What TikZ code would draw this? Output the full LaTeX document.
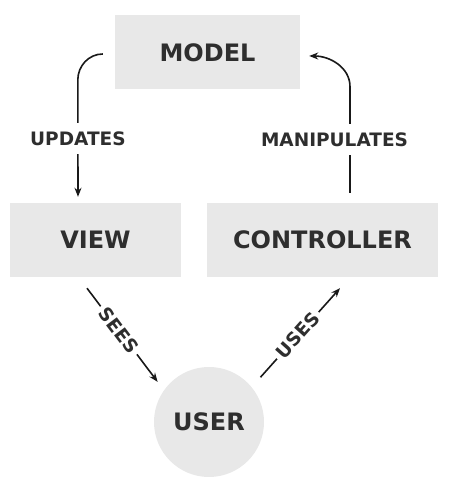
\documentclass[tikz,border=0pt]{standalone}
\usepackage{fontspec}
\setmainfont{DejaVu Sans}
\usepackage{xcolor}
\usetikzlibrary{arrows.meta,positioning,calc}

\definecolor{boxgray}{HTML}{E8E8E8}
\definecolor{textgray}{HTML}{2E2E2E}

\begin{document}
\begin{tikzpicture}[
    x=1pt, y=1pt,
    box/.style={rectangle, fill=boxgray, text=textgray, inner sep=0pt, minimum height=74pt, font=\bfseries\fontsize{24}{28}\selectfont},
    actor/.style={circle, fill=boxgray, text=textgray, inner sep=0pt, minimum size=110pt, font=\bfseries\fontsize{24}{28}\selectfont},
    lbl/.style={fill=white, text=textgray, inner xsep=4pt, inner ysep=8.5pt, font=\bfseries\fontsize{18.5}{21}\selectfont},
    arrow/.style={-{Stealth[length=9pt,width=7pt]}, line width=1.6pt, black!90}
]
    \useasboundingbox (0,0) rectangle (474,486);

    % Components
    \node[box, minimum width=185pt] (model) at (207.5,433.5) {MODEL};
    \node[box, minimum width=171pt] (view) at (95.5,246) {VIEW};
    \node[box, minimum width=231pt] (controller) at (322.5,246) {CONTROLLER};
    \node[actor] (user) at (209,64) {USER};

    % Arrows
    \draw[arrow] ([xshift=-12pt,yshift=-1.5pt]model.west) to[out=180,in=90] ++(-25,-26)
        -- node[lbl]{UPDATES} ([xshift=-17.5pt,yshift=6pt]view.north);
    \draw[arrow] ([xshift=27.5pt,yshift=10pt]controller.north)
        -- node[lbl, xshift=-15.5pt]{MANIPULATES} ++(0,106)
        to[out=90,in=0] ([xshift=9pt,yshift=-3.5pt]model.east);
    \draw[arrow] ([xshift=-8.5pt,yshift=-11pt]view.south)
        -- node[lbl, sloped, pos=0.45]{SEES} ([shift={(142:10pt)}]user.142);
    \draw[arrow] ([shift={(41:13pt)}]user.41)
        -- node[lbl, sloped, pos=0.47]{USES} ([xshift=17.5pt,yshift=-11pt]controller.south);
\end{tikzpicture}
\end{document}
